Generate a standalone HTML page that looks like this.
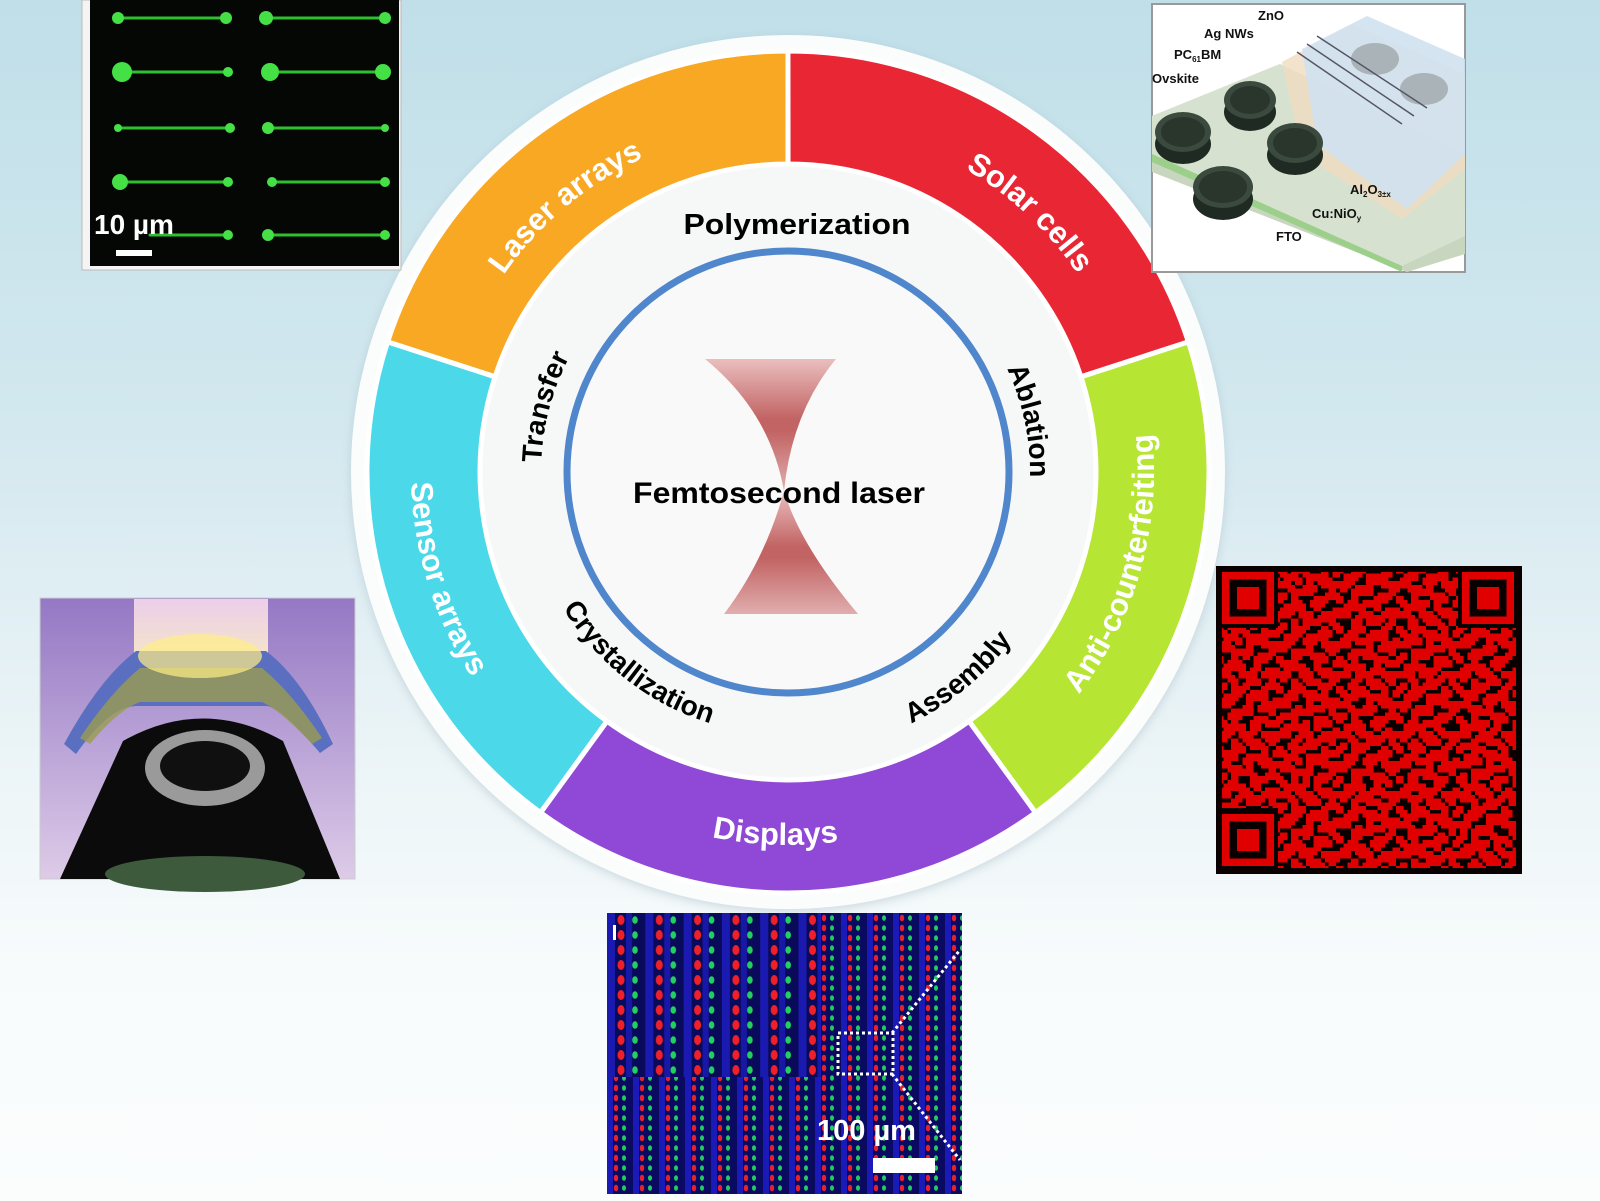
<!DOCTYPE html>
<html><head><meta charset="utf-8"><style>
html,body{margin:0;padding:0}
body{width:1600px;height:1201px;overflow:hidden;background:linear-gradient(180deg,#c0dfe9 0%,#d3e8ef 35%,#e9f3f6 60%,#f7fbfc 80%,#fbfdfd 100%);font-family:"Liberation Sans",Arial,sans-serif}
svg{position:absolute;left:0;top:0}
</style></head><body>
<svg width="1600" height="1201" viewBox="0 0 1600 1201" xmlns="http://www.w3.org/2000/svg" font-family="Liberation Sans, Arial, sans-serif" font-weight="bold">
<defs>
<filter id="sh" x="-10%" y="-10%" width="120%" height="120%"><feGaussianBlur stdDeviation="5"/></filter>
<linearGradient id="beam" x1="0" y1="0" x2="0" y2="1">
<stop offset="0" stop-color="#e8b4b4"/><stop offset="0.45" stop-color="#b94a4a"/><stop offset="0.55" stop-color="#b94a4a"/><stop offset="1" stop-color="#dca0a0"/></linearGradient>
<linearGradient id="pur" x1="0" y1="0" x2="0" y2="1"><stop offset="0" stop-color="#9478c4"/><stop offset="1" stop-color="#ddcbe8"/></linearGradient>
<linearGradient id="pink" x1="0" y1="0" x2="0" y2="1"><stop offset="0" stop-color="#f6d8ee"/><stop offset="1" stop-color="#fff4c0"/></linearGradient>
<path id="T346" d="M -299.6 -173 A 346 346 0 0 1 299.6 -173"/>
<path id="T351" d="M -304 -175.5 A 351 351 0 0 1 304 -175.5"/>
<path id="T247" d="M -213.9 -123.5 A 247 247 0 0 1 213.9 -123.5"/>
<path id="T242" d="M -209.6 -121 A 242 242 0 0 1 209.6 -121"/>
<path id="B366" d="M -317 183 A 366 366 0 0 0 317 183"/>
<path id="B373" d="M -323 186.5 A 373 373 0 0 0 323 186.5"/>
<path id="B377" d="M -326.5 188.5 A 377 377 0 0 0 326.5 188.5"/>
<path id="B263" d="M -227.8 131.5 A 263 263 0 0 0 227.8 131.5"/>
<path id="B280" d="M -242.5 140 A 280 280 0 0 0 242.5 140"/>
<path id="sec" d="M -247.5 -340.6 A 421 421 0 0 1 247.5 -340.6 L 181 -249.2 A 308 308 0 0 0 -181 -249.2 Z"/>
<pattern id="coarse" x="607" y="913" width="38.3" height="15" patternUnits="userSpaceOnUse">
<rect width="38.3" height="15" fill="#0a0a5a"/><rect x="0" width="8" height="15" fill="#1a1ab0"/><rect x="19" width="6" height="15" fill="#1818a8"/>
<ellipse cx="14" cy="7" rx="3.5" ry="5" fill="#f0202a"/><ellipse cx="28" cy="7" rx="2.8" ry="3.8" fill="#22d060"/></pattern>
<pattern id="fine" x="607" y="913" width="26" height="10" patternUnits="userSpaceOnUse">
<rect width="26" height="10" fill="#0a0a60"/><rect x="0" width="6" height="10" fill="#1a1ab8"/>
<ellipse cx="9" cy="5" rx="2.2" ry="3.3" fill="#e8202a"/><ellipse cx="17" cy="5" rx="2" ry="2.8" fill="#22cc60"/></pattern>
<pattern id="qa" x="1216" y="566" width="60" height="60" patternUnits="userSpaceOnUse"><g fill="#e00000">
<rect x="0" y="0" width="7.5" height="7.5"/><rect x="15" y="0" width="15" height="7.5"/><rect x="45" y="0" width="7.5" height="7.5"/>
<rect x="7.5" y="7.5" width="15" height="7.5"/><rect x="30" y="7.5" width="22.5" height="7.5"/>
<rect x="0" y="15" width="15" height="7.5"/><rect x="30" y="15" width="7.5" height="7.5"/><rect x="45" y="15" width="15" height="7.5"/>
<rect x="15" y="22.5" width="22.5" height="7.5"/><rect x="52.5" y="22.5" width="7.5" height="7.5"/>
<rect x="0" y="30" width="7.5" height="7.5"/><rect x="15" y="30" width="7.5" height="7.5"/><rect x="37.5" y="30" width="15" height="7.5"/>
<rect x="7.5" y="37.5" width="22.5" height="7.5"/><rect x="37.5" y="37.5" width="7.5" height="7.5"/>
<rect x="0" y="45" width="15" height="7.5"/><rect x="22.5" y="45" width="15" height="7.5"/><rect x="45" y="45" width="15" height="7.5"/>
<rect x="15" y="52.5" width="7.5" height="7.5"/><rect x="30" y="52.5" width="15" height="7.5"/><rect x="52.5" y="52.5" width="7.5" height="7.5"/></g></pattern>
<pattern id="qb" x="1220" y="570" width="52.5" height="52.5" patternUnits="userSpaceOnUse"><g fill="#e00000">
<rect x="7.5" y="0" width="7.5" height="7.5"/><rect x="30" y="0" width="7.5" height="7.5"/>
<rect x="0" y="7.5" width="7.5" height="7.5"/><rect x="22.5" y="7.5" width="7.5" height="7.5"/><rect x="45" y="7.5" width="7.5" height="7.5"/>
<rect x="15" y="15" width="7.5" height="7.5"/><rect x="30" y="15" width="15" height="7.5"/>
<rect x="0" y="22.5" width="15" height="7.5"/>
<rect x="22.5" y="30" width="7.5" height="7.5"/><rect x="37.5" y="30" width="15" height="7.5"/>
<rect x="7.5" y="37.5" width="15" height="7.5"/>
<rect x="0" y="45" width="7.5" height="7.5"/><rect x="30" y="45" width="7.5" height="7.5"/><rect x="45" y="45" width="7.5" height="7.5"/></g></pattern>
</defs>

<!-- central disk -->
<circle cx="788" cy="475" r="437" fill="#9fb5c0" opacity="0.45" filter="url(#sh)"/>
<circle cx="788" cy="472" r="437" fill="#fbfcfc"/>
<circle cx="788" cy="472" r="308" fill="#f6f7f7"/>
<g transform="translate(788,472)" stroke="#ffffff" stroke-width="5" stroke-linejoin="miter">
<use href="#sec" transform="rotate(-36)" fill="#f8a823"/>
<use href="#sec" transform="rotate(36)" fill="#e92634"/>
<use href="#sec" transform="rotate(108)" fill="#b6e633"/>
<use href="#sec" transform="rotate(180)" fill="#9048d6"/>
<use href="#sec" transform="rotate(-108)" fill="#4bd9ea"/>
</g>
<circle cx="788" cy="472" r="221" fill="#f9f9f9" stroke="#4f86cc" stroke-width="7"/>

<!-- beam -->
<path d="M705,359 L836,359 Q792,412 784,491 Q770,412 705,359 Z" fill="url(#beam)" opacity="0.85"/>
<path d="M784,491 Q800,545 858,614 L724,614 Q765,560 784,491 Z" fill="url(#beam)" opacity="0.85"/>

<text x="779" y="503" font-size="30" text-anchor="middle" fill="#000" textLength="292" lengthAdjust="spacingAndGlyphs">Femtosecond laser</text>
<text x="797" y="234" font-size="29" text-anchor="middle" fill="#000" textLength="227" lengthAdjust="spacingAndGlyphs">Polymerization</text>

<g transform="translate(788,472)" font-size="31" fill="#ffffff" text-anchor="middle">
<text transform="rotate(-40)"><textPath href="#T346" startOffset="50%">Laser arrays</textPath></text>
<text transform="rotate(43)"><textPath href="#T351" startOffset="50%">Solar cells</textPath></text>
<text transform="rotate(-74.3)"><textPath href="#B366" startOffset="50%">Anti-counterfeiting</textPath></text>
<text transform="rotate(2)"><textPath href="#B373" startOffset="50%">Displays</textPath></text>
<text transform="rotate(72.7)"><textPath href="#B377" startOffset="50%">Sensor arrays</textPath></text>
</g>
<g transform="translate(788,472)" font-size="28" fill="#000" text-anchor="middle">
<text transform="rotate(-75)"><textPath href="#T247" startOffset="50%">Transfer</textPath></text>
<text transform="rotate(78)"><textPath href="#T242" startOffset="50%">Ablation</textPath></text>
<text transform="rotate(38)"><textPath href="#B263" startOffset="50%">Crystallization</textPath></text>
<text transform="rotate(-39.6)"><textPath href="#B280" startOffset="50%">Assembly</textPath></text>
</g>

<!-- top-left image -->
<rect x="82" y="0" width="319" height="270" fill="#f4f4f4" stroke="#bbb"/>
<rect x="90" y="0" width="309" height="266" fill="#050705"/>
<g stroke="#2fbf2f" stroke-width="3" stroke-linecap="round">
<line x1="118" y1="18" x2="226" y2="18"/><line x1="266" y1="18" x2="385" y2="18"/>
<line x1="120" y1="72" x2="228" y2="72"/><line x1="268" y1="72" x2="385" y2="72"/>
<line x1="116" y1="128" x2="230" y2="128"/><line x1="268" y1="128" x2="385" y2="128"/>
<line x1="118" y1="182" x2="228" y2="182"/><line x1="270" y1="182" x2="385" y2="182"/>
<line x1="150" y1="235" x2="228" y2="235"/><line x1="268" y1="235" x2="385" y2="235"/>
</g>
<g fill="#45e045">
<circle cx="118" cy="18" r="6"/><circle cx="226" cy="18" r="6"/><circle cx="266" cy="18" r="7"/><circle cx="385" cy="18" r="6"/>
<circle cx="122" cy="72" r="10"/><circle cx="228" cy="72" r="5"/><circle cx="270" cy="72" r="9"/><circle cx="383" cy="72" r="8"/>
<circle cx="118" cy="128" r="4"/><circle cx="230" cy="128" r="5"/><circle cx="268" cy="128" r="6"/><circle cx="385" cy="128" r="4"/>
<circle cx="120" cy="182" r="8"/><circle cx="228" cy="182" r="5"/><circle cx="272" cy="182" r="5"/><circle cx="385" cy="182" r="5"/>
<circle cx="228" cy="235" r="5"/><circle cx="268" cy="235" r="6"/><circle cx="385" cy="235" r="5"/>
</g>
<text x="94" y="234" font-size="28" fill="#fff">10 µm</text>
<rect x="116" y="250" width="36" height="6" fill="#fff"/>

<!-- top-right image -->
<rect x="1152" y="4" width="313" height="268" fill="#ffffff" stroke="#999" stroke-width="2"/>
<g transform="translate(1152,4)">
<polygon points="0,112 128,60 313,150 313,250 255,268 0,168" fill="#c8d6c0"/>
<polygon points="0,112 128,60 313,150 313,232 250,262 0,150" fill="#d6e2cf"/>
<polygon points="0,150 250,262 250,268 0,158" fill="#9ccf8a"/>
<polygon points="130,58 200,20 313,70 313,165 250,215 150,150" fill="#f0dcc0" opacity="0.8"/>
<polygon points="150,45 215,12 313,55 313,150 255,205 165,140" fill="#cfe1ef" opacity="0.9"/>
<ellipse cx="223" cy="55" rx="24" ry="16" fill="#a9b3b8"/><ellipse cx="272" cy="85" rx="24" ry="16" fill="#a9b3b8"/>
<g stroke="#556" stroke-width="1.5"><line x1="145" y1="48" x2="250" y2="120"/><line x1="155" y1="40" x2="262" y2="112"/><line x1="165" y1="32" x2="275" y2="104"/></g>
<g>
<ellipse cx="31" cy="140" rx="28" ry="20" fill="#1f2a22"/><ellipse cx="31" cy="128" rx="28" ry="20" fill="#3b4a3e"/><ellipse cx="31" cy="128" rx="22" ry="15" fill="#2a352c"/>
<ellipse cx="98" cy="108" rx="26" ry="19" fill="#1f2a22"/><ellipse cx="98" cy="96" rx="26" ry="19" fill="#3b4a3e"/><ellipse cx="98" cy="96" rx="20" ry="14" fill="#2a352c"/>
<ellipse cx="143" cy="151" rx="28" ry="20" fill="#1f2a22"/><ellipse cx="143" cy="139" rx="28" ry="20" fill="#3b4a3e"/><ellipse cx="143" cy="139" rx="22" ry="15" fill="#2a352c"/>
<ellipse cx="71" cy="195" rx="30" ry="21" fill="#1f2a22"/><ellipse cx="71" cy="183" rx="30" ry="21" fill="#3b4a3e"/><ellipse cx="71" cy="183" rx="24" ry="16" fill="#2a352c"/>
</g>
<g font-size="13" fill="#111">
<text x="106" y="16">ZnO</text><text x="52" y="34">Ag NWs</text>
<text x="22" y="55">PC<tspan font-size="8" dy="3">61</tspan><tspan dy="-3">BM</tspan></text>
<text x="0" y="79">Ovskite</text>
<text x="198" y="190">Al<tspan font-size="8" dy="3">2</tspan><tspan dy="-3">O</tspan><tspan font-size="8" dy="3">3±x</tspan></text>
<text x="160" y="214">Cu:NiO<tspan font-size="8" dy="3">y</tspan></text>
<text x="124" y="237">FTO</text>
</g>
</g>

<!-- left image -->
<rect x="40" y="598" width="315" height="281" fill="url(#pur)" stroke="#ccc"/>
<g transform="translate(40,598)">
<rect x="94" y="1" width="134" height="75" fill="url(#pink)" opacity="0.9"/>
<path d="M24,146 Q60,80 96,53 L226,53 Q262,80 293,146 L280,155 Q240,108 226,108 L96,108 Q70,108 36,156 Z" fill="#5a6fc0"/>
<path d="M40,140 Q70,95 100,70 L222,70 Q252,95 282,140 L272,146 Q240,112 222,104 L100,104 Q78,112 50,146 Z" fill="#9a9c50" opacity="0.8"/>
<ellipse cx="160" cy="58" rx="62" ry="22" fill="#ffee88" opacity="0.7"/>
<path d="M20,281 L83,143 Q163,98 243,143 L300,281 Z" fill="#0b0b0b"/>
<ellipse cx="165" cy="170" rx="60" ry="38" fill="#9a9a9a"/>
<ellipse cx="165" cy="168" rx="45" ry="25" fill="#101010"/>
<ellipse cx="165" cy="276" rx="100" ry="18" fill="#3d5a3d"/>
</g>

<!-- QR image -->
<rect x="1216" y="566" width="306" height="308" fill="#0a0000"/>
<rect x="1222" y="572" width="294" height="296" fill="url(#qa)"/>
<rect x="1222" y="572" width="294" height="296" fill="url(#qb)"/>
<g>
<rect x="1218" y="568" width="60" height="60" fill="#0a0000"/><rect x="1222" y="572" width="52" height="52" fill="#e00000"/><rect x="1229.5" y="579.5" width="37" height="37" fill="#0a0000"/><rect x="1237" y="587" width="22" height="22" fill="#e00000"/>
<rect x="1458" y="568" width="62" height="60" fill="#0a0000"/><rect x="1462" y="572" width="52" height="52" fill="#e00000"/><rect x="1469.5" y="579.5" width="37" height="37" fill="#0a0000"/><rect x="1477" y="587" width="22" height="22" fill="#e00000"/>
<rect x="1218" y="808" width="60" height="64" fill="#0a0000"/><rect x="1222" y="814" width="52" height="52" fill="#e00000"/><rect x="1229.5" y="821.5" width="37" height="37" fill="#0a0000"/><rect x="1237" y="829" width="22" height="22" fill="#e00000"/>
</g>

<!-- bottom image -->
<rect x="607" y="913" width="355" height="281" fill="url(#fine)"/>
<rect x="607" y="913" width="213" height="164" fill="url(#coarse)"/>
<rect x="613" y="925" width="3" height="15" fill="#fff"/>
<g fill="none" stroke="#fff" stroke-width="3" stroke-dasharray="3 3">
<rect x="838" y="1033" width="55" height="41"/>
<line x1="892" y1="1033" x2="960" y2="950"/>
<line x1="892" y1="1074" x2="960" y2="1160"/>
</g>
<text x="817" y="1140" font-size="29" fill="#fff">100 µm</text>
<rect x="873" y="1158" width="62" height="15" fill="#fff"/>
</svg>
</body></html>
